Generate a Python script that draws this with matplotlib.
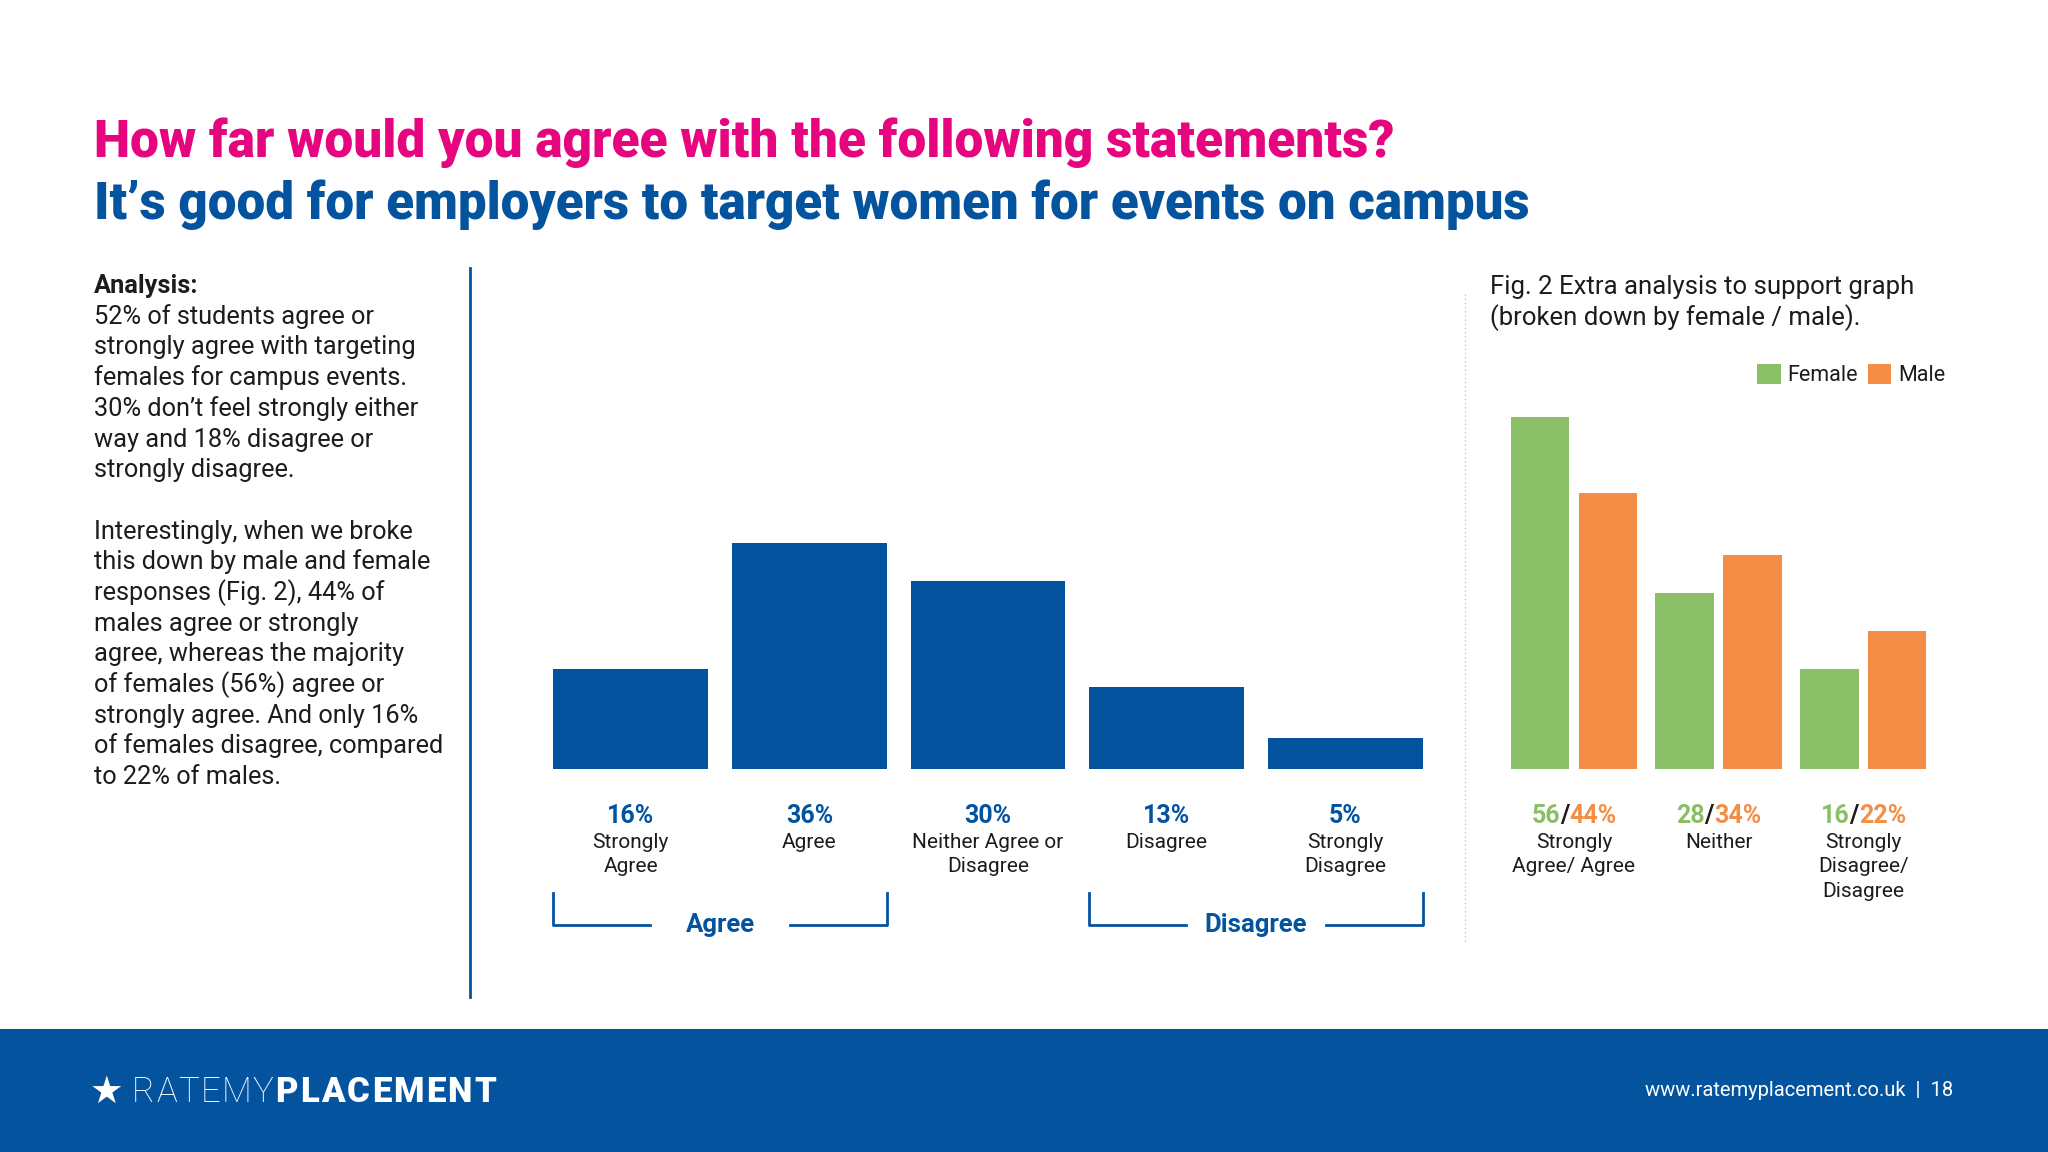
import matplotlib as mpl
mpl.use('Agg')
import matplotlib.pyplot as plt
from matplotlib.patches import Rectangle, Patch
from matplotlib.lines import Line2D

plt.rcParams['font.family'] = ['Roboto', 'DejaVu Sans']

W, H = 2048, 1152

# main chart data
categories = ['Strongly\nAgree', 'Agree', 'Neither Agree or\nDisagree', 'Disagree', 'Strongly\nDisagree']
shares = [16, 36, 30, 13, 5]
groups = [('Agree', 0, 1), ('Disagree', 3, 4)]

# fig. 2 data
gender_cats = ['Strongly\nAgree/ Agree', 'Neither', 'Strongly\nDisagree/\nDisagree']
female = [56, 28, 16]
male = [44, 34, 22]

title1 = 'How far would you agree with the following statements?'
title2 = 'It\u2019s good for employers to target women for events on campus'
analysis = [
    '52% of students agree or',
    'strongly agree with targeting',
    'females for campus events.',
    '30% don\u2019t feel strongly either',
    'way and 18% disagree or',
    'strongly disagree.',
    '',
    'Interestingly, when we broke',
    'this down by male and female',
    'responses (Fig. 2), 44% of',
    'males agree or strongly',
    'agree, whereas the majority',
    'of females (56%) agree or',
    'strongly agree. And only 16%',
    'of females disagree, compared',
    'to 22% of males.',
]

PINK = '#E6057F'
BLUE = '#03539F'
GREEN = '#8BBF67'
ORANGE = '#F48E47'
TXT = '#1c1c1c'


def fx(x):
    return x / W


def fy(y):
    return 1 - y / H


fig = plt.figure(figsize=(W / 100, H / 100), dpi=100)
fig.patch.set_facecolor('white')

# titles
fig.text(fx(94), fy(157), title1, fontsize=37, weight='black', color=PINK, va='baseline')
fig.text(fx(94), fy(219), title2, fontsize=36.7, weight='black', color=BLUE, va='baseline')

# analysis column
fig.text(fx(94), fy(293), 'Analysis:', fontsize=18.3, weight='bold', color=TXT, va='baseline')
for k, line in enumerate(analysis):
    fig.text(fx(94), fy(293 + 30.7 * (k + 1)), line, fontsize=18.3, color=TXT, va='baseline')

fig.add_artist(Line2D([fx(470), fx(470)], [fy(268), fy(997)], transform=fig.transFigure,
                      color=BLUE, lw=2))

# main chart: 6.28 px per percent
unit = 6.28
ax = fig.add_axes([541.5 / W, 383 / H, 893 / W, 60 * unit / H])
ax.set_xlim(-0.5, 4.5)
ax.set_ylim(0, 60)
ax.axis('off')
ax.bar(range(len(shares)), shares, width=0.866, color=BLUE)

for i, (cat, v) in enumerate(zip(categories, shares)):
    ax.text(i, -54 / unit, f'{v}%', ha='center', va='baseline', fontsize=18,
            weight='bold', color=BLUE, clip_on=False)
    for k, line in enumerate(cat.split('\n')):
        ax.text(i, -(79 + 24.5 * k) / unit, line, ha='center', va='baseline',
                fontsize=15, color=TXT, clip_on=False)

half = 0.866 / 2
y_top, y_bot = -124 / unit, -156 / unit
for label, a, b in groups:
    x0, x1 = a - half, b + half
    mid = (x0 + x1) / 2
    ax.plot([x0, x0, mid - 0.39], [y_top, y_bot, y_bot], color=BLUE, lw=2, clip_on=False)
    ax.plot([mid + 0.39, x1, x1], [y_bot, y_bot, y_top], color=BLUE, lw=2, clip_on=False)
    ax.text(mid, -163 / unit, label, ha='center', va='baseline', fontsize=18.5,
            weight='bold', color=BLUE, clip_on=False)

# fig. 2
fig.add_artist(Line2D([fx(1465), fx(1465)], [fy(294), fy(944)], transform=fig.transFigure,
                      color='#c8c8c8', lw=1, ls=(0, (1, 2))))
fig.text(fx(1490), fy(294), 'Fig. 2 Extra analysis to support graph', fontsize=18.5,
         color=TXT, va='baseline')
fig.text(fx(1490), fy(325), '(broken down by female / male).', fontsize=18.5,
         color=TXT, va='baseline')

ax2 = fig.add_axes([1501.7 / W, 383 / H, 433.8 / W, 60 * unit / H])
ax2.set_xlim(-0.5, 2.5)
ax2.set_ylim(0, 60)
ax2.axis('off')
xs = range(len(gender_cats))
ax2.bar([x - 0.235 for x in xs], female, width=0.405, color=GREEN)
ax2.bar([x + 0.235 for x in xs], male, width=0.405, color=ORANGE)

for i, (cat, f, m) in enumerate(zip(gender_cats, female, male)):
    full = ax2.text(i, -54 / unit, f'{f}/{m}%', ha='center', va='baseline', fontsize=18,
                    weight='bold', alpha=0, clip_on=False)
    prev = full
    pieces = [(f'{f}', GREEN), ('/', TXT), (f'{m}%', ORANGE)]
    for j, (s, c) in enumerate(pieces):
        xy = (0, 0) if j == 0 else (1, 0)
        prev = ax2.annotate(s, xy=xy, xycoords=prev, ha='left', va='bottom', fontsize=18,
                            weight='bold', color=c)
    for k, line in enumerate(cat.split('\n')):
        ax2.text(i, -(79 + 24.5 * k) / unit, line, ha='center', va='baseline',
                 fontsize=15, color=TXT, clip_on=False)

handles = [Patch(facecolor=GREEN, label='Female'), Patch(facecolor=ORANGE, label='Male')]
fig.legend(handles=handles, loc='center right', bbox_to_anchor=(fx(1945), fy(375)),
           bbox_transform=fig.transFigure, ncol=2, frameon=False, fontsize=15.5,
           handlelength=1.1, handleheight=1.1, handletextpad=0.3, columnspacing=0.45,
           borderpad=0, borderaxespad=0, labelcolor=TXT)

# footer
fig.add_artist(Rectangle((0, 0), 1, fy(1029), transform=fig.transFigure,
                         facecolor=BLUE, edgecolor='none', zorder=-1))
fig.text(fx(90), fy(1093), '\u2605', fontsize=27, color='white', va='center',
         family='DejaVu Sans')
prev = fig.text(fx(132), fy(1102), 'R', fontsize=25, weight='light', color='white',
                va='baseline')
for j, ch in enumerate('ATEMYPLACEMENT'):
    bold = j >= 5
    prev = ax.annotate(ch, xy=(1, 0), xycoords=prev, xytext=(1.5 if bold else 1.0, 0),
                       textcoords='offset points', ha='left', va='bottom', fontsize=25,
                       weight='black' if bold else 'light', color='white')
fig.text(fx(1953), fy(1091), 'www.ratemyplacement.co.uk  |  18', fontsize=14.5,
         color='white', ha='right', va='center')

fig.savefig('out.png', dpi=100, facecolor='white')
